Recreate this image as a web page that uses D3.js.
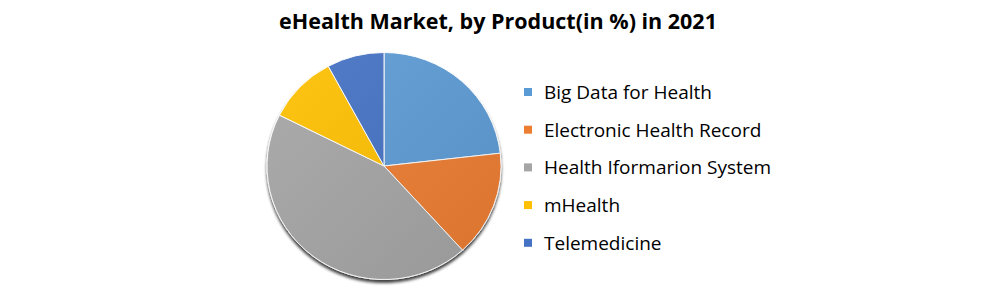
<!DOCTYPE html>
<html>
<head>
<meta charset="utf-8">
<script src="https://cdn.jsdelivr.net/npm/d3@7"></script>
<style>
  body { margin: 0; background: #fff; }
  text { font-family: "Open Sans", "Noto Sans", sans-serif; fill: #000; }
</style>
</head>
<body>
<div id="chart"></div>
<script>
// data
const categories = ['Big Data for Health', 'Electronic Health Record', 'Health Iformarion System', 'mHealth', 'Telemedicine'];
const shares = [23.2, 15.1, 44.1, 9.7, 7.9];
const colors = ['#5B9BD5', '#ED7D31', '#A5A5A5', '#FFC000', '#4472C4'];
const title = 'eHealth Market, by Product(in %) in 2021';

const width = 1003, height = 289;
const cx = 384, cy = 166, radius = 117;

const svg = d3.select('#chart').append('svg')
    .attr('width', width)
    .attr('height', height);

const defs = svg.append('defs');

const shadow = defs.append('filter').attr('id', 'shadow')
    .attr('x', '-20%').attr('y', '-20%').attr('width', '140%').attr('height', '140%');
shadow.append('feGaussianBlur').attr('in', 'SourceAlpha').attr('stdDeviation', 1.5);
shadow.append('feOffset').attr('dx', 0).attr('dy', 3).attr('result', 'off');
shadow.append('feComponentTransfer').append('feFuncA').attr('type', 'linear').attr('slope', 0.75);
const merge = shadow.append('feMerge');
merge.append('feMergeNode');
merge.append('feMergeNode').attr('in', 'SourceGraphic');

const shade = defs.append('linearGradient').attr('id', 'shade')
    .attr('x1', '0%').attr('y1', '0%').attr('x2', '100%').attr('y2', '100%');
shade.append('stop').attr('offset', '0%').attr('stop-color', '#fff').attr('stop-opacity', 0.08);
shade.append('stop').attr('offset', '100%').attr('stop-color', '#000').attr('stop-opacity', 0.08);

// title
svg.append('text')
    .attr('x', 498)
    .attr('y', 29)
    .attr('text-anchor', 'middle')
    .style('font-size', '21.5px')
    .style('font-weight', 'bold')
    .text(title);

// pie
const color = d3.scaleOrdinal().domain(categories).range(colors);
const pie = d3.pie().sort(null).value(d => d.value);
const arc = d3.arc().innerRadius(0).outerRadius(radius);
const data = categories.map((c, i) => ({name: c, value: shares[i]}));

const pieG = svg.append('g')
    .attr('transform', 'translate(' + cx + ',' + cy + ') scale(1,0.97)');

const slices = pieG.append('g').attr('filter', 'url(#shadow)');
slices.selectAll('path')
    .data(pie(data))
    .join('path')
    .attr('d', arc)
    .attr('fill', d => color(d.data.name))
    .attr('stroke', '#fff')
    .attr('stroke-width', 1);

pieG.append('circle')
    .attr('r', radius)
    .attr('fill', 'url(#shade)')
    .attr('pointer-events', 'none');

// legend
const legend = svg.append('g').attr('transform', 'translate(524,92)');
const rowH = 37.7;
const items = legend.selectAll('g')
    .data(categories)
    .join('g')
    .attr('transform', (d, i) => 'translate(0,' + (i * rowH) + ')');

items.append('rect')
    .attr('x', 0).attr('y', -4)
    .attr('width', 8).attr('height', 8)
    .attr('fill', d => color(d));

items.append('text')
    .attr('x', 20)
    .attr('y', 0)
    .attr('dy', '0.36em')
    .style('font-size', '19px')
    .text(d => d);
</script>
</body>
</html>
